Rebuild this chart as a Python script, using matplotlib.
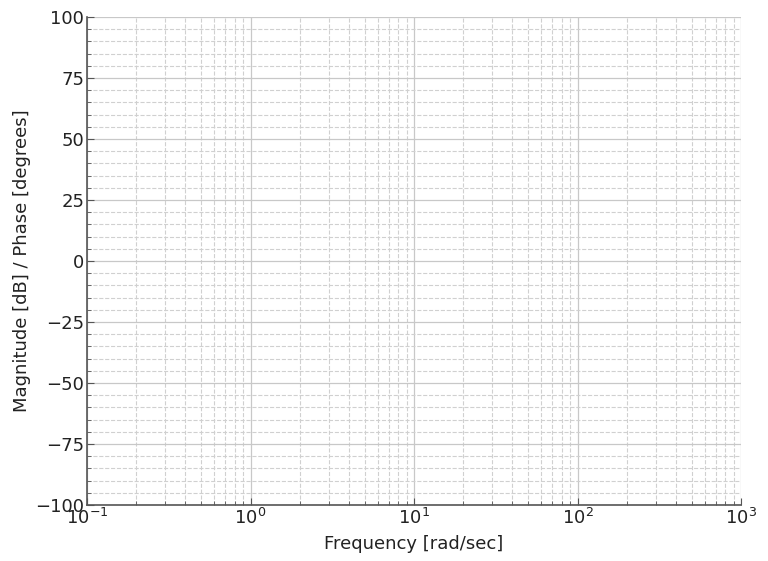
import matplotlib
matplotlib.use("Agg")
import matplotlib.pyplot as plt
from matplotlib.ticker import LogLocator, MultipleLocator, NullFormatter

x_limits = [0.1, 1000]
y_limits = [-100, 100]
y_ticks = [-100, -75, -50, -25, 0, 25, 50, 75, 100]
x_label = "Frequency [rad/sec]"
y_label = "Magnitude [dB] / Phase [degrees]"

fig = plt.figure(figsize=(7.68, 5.61), dpi=100)
ax = fig.add_axes([87/768, 1 - 505/561, (741-87)/768, (505-17)/561])
ax.set_xscale("log")
ax.set_xlim(*x_limits)
ax.set_ylim(*y_limits)
ax.set_yticks(y_ticks)
ax.yaxis.set_minor_locator(MultipleLocator(5))
ax.xaxis.set_minor_locator(LogLocator(base=10, subs=range(2, 10), numticks=20))
ax.xaxis.set_minor_formatter(NullFormatter())

ax.grid(which="major", color="#c8c8c8", linestyle="-", linewidth=0.9)
ax.grid(which="minor", color="#d0d0d0", linestyle="--", linewidth=0.8)
ax.set_axisbelow(True)

for s in ["top", "right"]:
    ax.spines[s].set_visible(False)
for s in ["left", "bottom"]:
    ax.spines[s].set_color("#555555")
    ax.spines[s].set_linewidth(1.2)

ax.tick_params(which="both", direction="in", colors="#555555", labelcolor="#222222",
               labelsize=13, pad=2)
ax.tick_params(which="major", length=5)
ax.tick_params(which="minor", length=3)

ax.set_xlabel(x_label, fontsize=13, color="#222222", labelpad=5)
ax.set_ylabel(y_label, fontsize=13, color="#222222", labelpad=3)

fig.savefig("out.png", dpi=100)
